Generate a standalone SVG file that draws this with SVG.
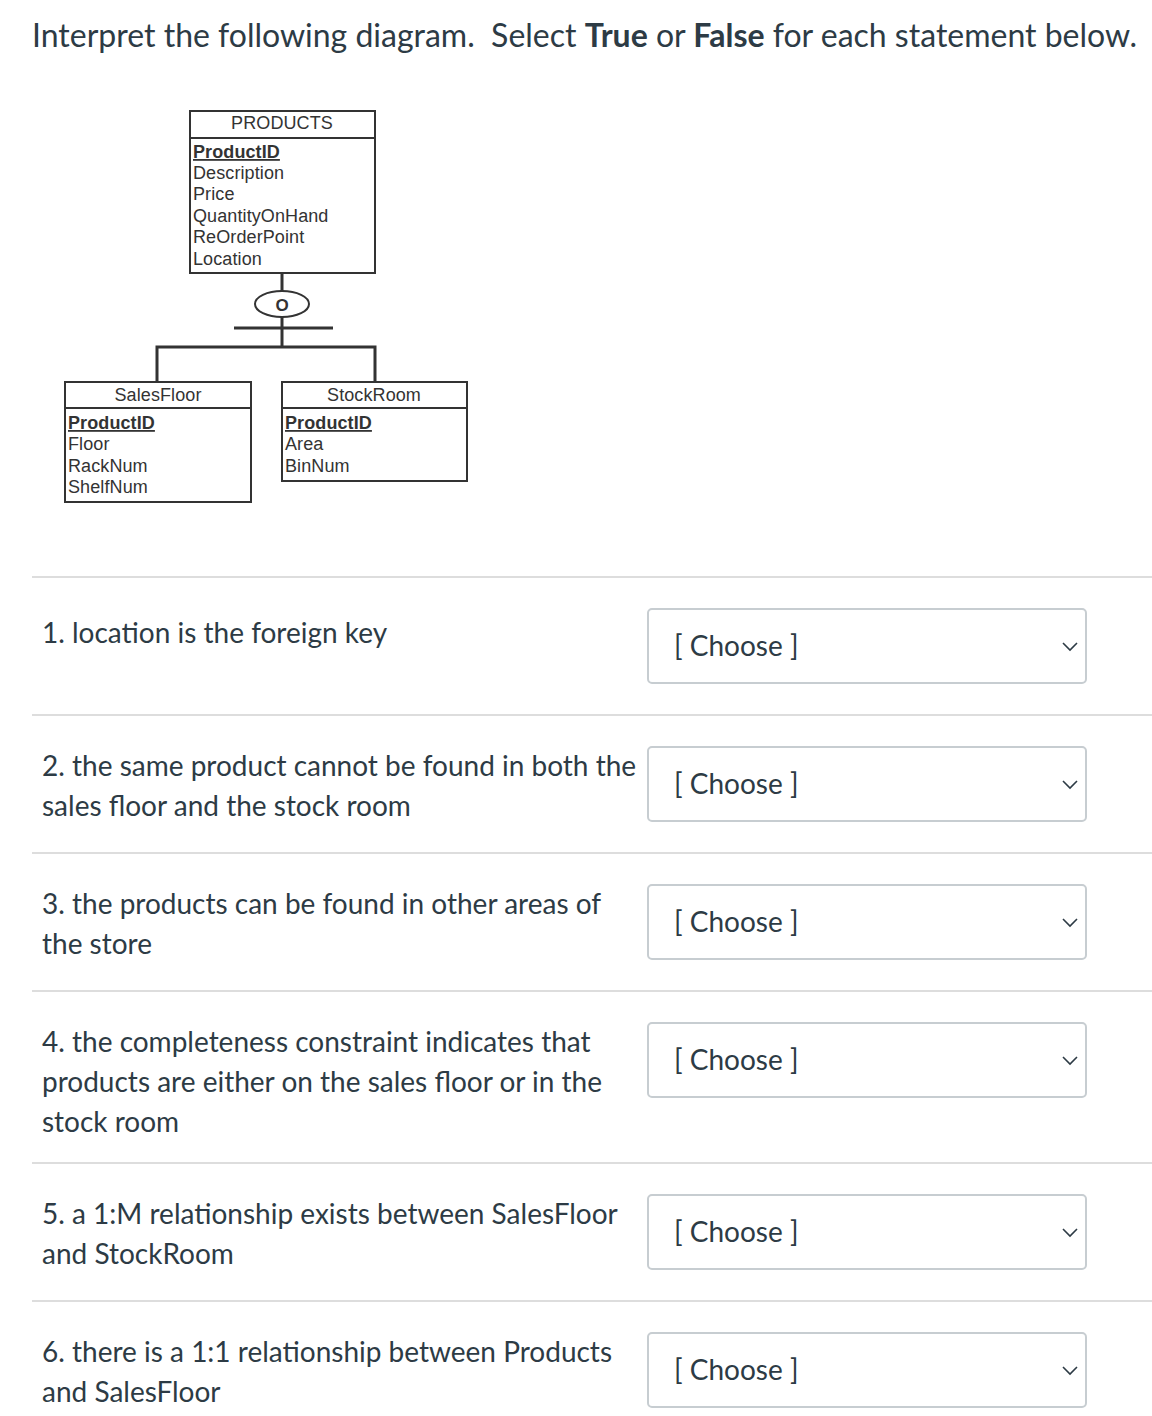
<svg xmlns="http://www.w3.org/2000/svg" width="1152" height="1416" viewBox="0 0 1152 1416">
<style>
.t{font-family:Lato,"Open Sans",sans-serif;fill:#2d3b45}
.q{font-size:28px}
.e{font-family:"Liberation Sans",Arial,sans-serif;font-size:18px;fill:#333;letter-spacing:0.1px}
.b{fill:#fff;stroke:#333;stroke-width:2}
.l{stroke:#333;stroke-width:3;fill:none}
.sep{stroke:#ddd;stroke-width:2}
.dd{fill:#fff;stroke:#c7cdd1;stroke-width:2}
.ch{fill:none;stroke:#2d3b45;stroke-width:1.6}
</style>
<rect width="1152" height="1416" fill="#fff"/>
<text class="t" x="32" y="47" font-size="32" xml:space="preserve">Interpret the following diagram.  Select <tspan font-weight="bold">True</tspan> or <tspan font-weight="bold">False</tspan> for each statement below.</text>
<g id="connectors">
<line class="l" x1="282" y1="273" x2="282" y2="347"/>
<line class="l" x1="234" y1="328" x2="333" y2="328"/>
<polyline class="l" points="157,382 157,347 375,347 375,382"/>
</g>
<g id="disjoint">
<ellipse cx="282" cy="304" rx="27" ry="13" fill="#fff" stroke="#333" stroke-width="2"/>
<text x="282" y="311" text-anchor="middle" font-family="Liberation Sans,Arial,sans-serif" font-size="17" font-weight="bold" fill="#333">O</text>
</g>
<g id="products">
<rect class="b" x="190" y="111" width="185" height="162"/>
<line stroke="#333" stroke-width="2" x1="190" y1="138" x2="375" y2="138"/>
<text class="e" x="282" y="129" text-anchor="middle">PRODUCTS</text>
<text class="e" x="193" y="158" font-weight="bold" text-decoration="underline">ProductID</text>
<text class="e" x="193" y="179">Description</text>
<text class="e" x="193" y="200">Price</text>
<text class="e" x="193" y="222">QuantityOnHand</text>
<text class="e" x="193" y="243">ReOrderPoint</text>
<text class="e" x="193" y="265">Location</text>
</g>
<g id="salesfloor">
<rect class="b" x="65" y="382" width="186" height="120"/>
<line stroke="#333" stroke-width="2" x1="65" y1="408" x2="251" y2="408"/>
<text class="e" x="158" y="401" text-anchor="middle">SalesFloor</text>
<text class="e" x="68" y="429" font-weight="bold" text-decoration="underline">ProductID</text>
<text class="e" x="68" y="450">Floor</text>
<text class="e" x="68" y="472">RackNum</text>
<text class="e" x="68" y="493">ShelfNum</text>
</g>
<g id="stockroom">
<rect class="b" x="282" y="382" width="185" height="99"/>
<line stroke="#333" stroke-width="2" x1="282" y1="408" x2="467" y2="408"/>
<text class="e" x="374" y="401" text-anchor="middle">StockRoom</text>
<text class="e" x="285" y="429" font-weight="bold" text-decoration="underline">ProductID</text>
<text class="e" x="285" y="450">Area</text>
<text class="e" x="285" y="472">BinNum</text>
</g>
<g id="questions">
<line class="sep" x1="32" y1="577" x2="1152" y2="577"/>
<line class="sep" x1="32" y1="715" x2="1152" y2="715"/>
<line class="sep" x1="32" y1="853" x2="1152" y2="853"/>
<line class="sep" x1="32" y1="991" x2="1152" y2="991"/>
<line class="sep" x1="32" y1="1163" x2="1152" y2="1163"/>
<line class="sep" x1="32" y1="1301" x2="1152" y2="1301"/>
<text class="t q" x="42" y="643">1. location is the foreign key</text>
<text class="t q" x="42" y="776">2. the same product cannot be found in both the</text>
<text class="t q" x="42" y="816">sales floor and the stock room</text>
<text class="t q" x="42" y="914">3. the products can be found in other areas of</text>
<text class="t q" x="42" y="954">the store</text>
<text class="t q" x="42" y="1052">4. the completeness constraint indicates that</text>
<text class="t q" x="42" y="1092">products are either on the sales floor or in the</text>
<text class="t q" x="42" y="1132">stock room</text>
<text class="t q" x="42" y="1224">5. a 1:M relationship exists between SalesFloor</text>
<text class="t q" x="42" y="1264">and StockRoom</text>
<text class="t q" x="42" y="1362">6. there is a 1:1 relationship between Products</text>
<text class="t q" x="42" y="1402">and SalesFloor</text>
</g>
<g id="dropdowns">
<rect class="dd" x="648" y="609" width="438" height="74" rx="4"/>
<text class="t q" x="674" y="656">[ Choose ]</text>
<polyline class="ch" points="1063,643 1070,650 1077,643"/>
<rect class="dd" x="648" y="747" width="438" height="74" rx="4"/>
<text class="t q" x="674" y="794">[ Choose ]</text>
<polyline class="ch" points="1063,781 1070,788 1077,781"/>
<rect class="dd" x="648" y="885" width="438" height="74" rx="4"/>
<text class="t q" x="674" y="932">[ Choose ]</text>
<polyline class="ch" points="1063,919 1070,926 1077,919"/>
<rect class="dd" x="648" y="1023" width="438" height="74" rx="4"/>
<text class="t q" x="674" y="1070">[ Choose ]</text>
<polyline class="ch" points="1063,1057 1070,1064 1077,1057"/>
<rect class="dd" x="648" y="1195" width="438" height="74" rx="4"/>
<text class="t q" x="674" y="1242">[ Choose ]</text>
<polyline class="ch" points="1063,1229 1070,1236 1077,1229"/>
<rect class="dd" x="648" y="1333" width="438" height="74" rx="4"/>
<text class="t q" x="674" y="1380">[ Choose ]</text>
<polyline class="ch" points="1063,1367 1070,1374 1077,1367"/>
</g>
</svg>
